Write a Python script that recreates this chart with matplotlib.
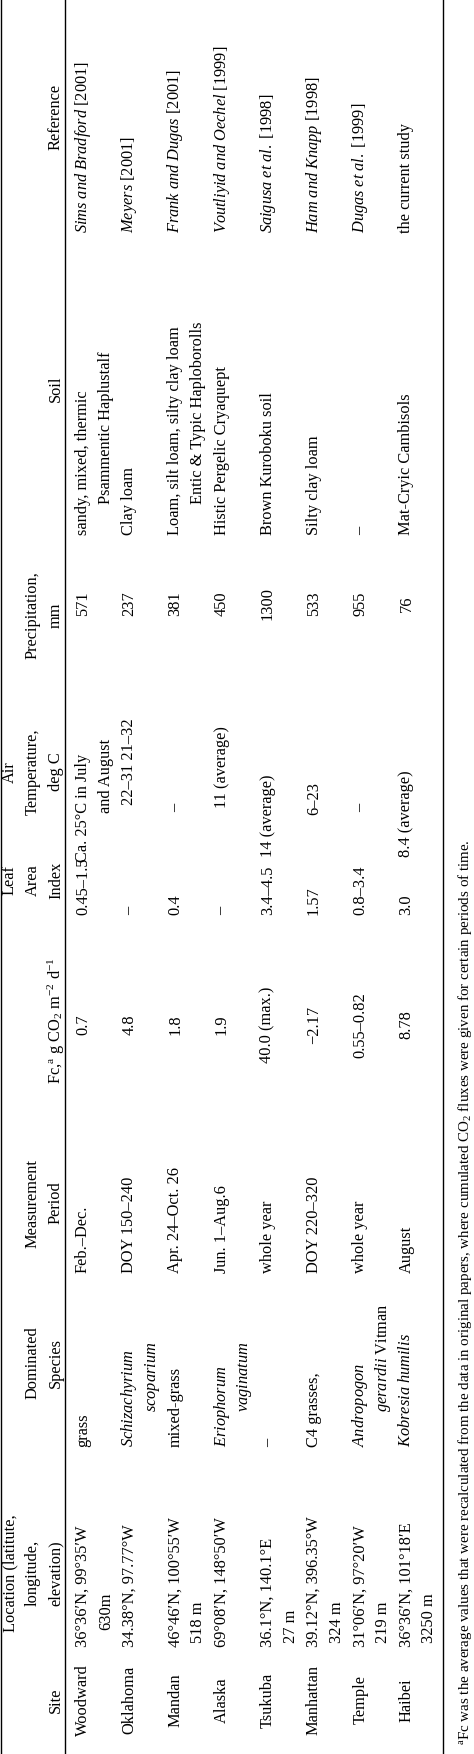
import matplotlib
matplotlib.use("Agg")
import matplotlib.pyplot as plt

plt.rcParams.update({"font.family": "Liberation Serif",
                     "mathtext.fontset": "custom",
                     "mathtext.rm": "Liberation Serif",
                     "mathtext.it": "Liberation Serif:italic"})

# ---------------------------------------------------------------- table contents
sites = ["Woodward", "Oklahoma", "Mandan", "Alaska", "Tsukuba", "Manhattan", "Temple", "Haibei"]
location1 = ["36°36′N, 99°35′W", "34.38°N, 97.77°W", "46°46′N, 100°55′W", "69°08′N, 148°50′W",
             "36.1°N, 140.1°E", "39.12°N, 396.35°W", "31°06′N, 97°20′W", "36°36′N, 101°18′E"]
location2 = ["630m", None, "518 m", None, "27 m", "324 m", "219 m", "3250 m"]
species1 = ["grass", r"$\it{Schizachyrium}$", "mixed-grass", r"$\it{Eriophorum}$", "–",
            "C4 grasses,", r"$\it{Andropogon}$", r"$\it{Kobresia\ humilis}$"]
species2 = [None, r"$\it{scoparium}$", None, r"$\it{vaginatum}$", None, None,
            r"$\it{gerardii}$ Vitman", None]
period = ["Feb.–Dec.", "DOY 150–240", "Apr. 24–Oct. 26", "Jun. 1–Aug.6", "whole year",
          "DOY 220–320", "whole year", "August"]
fc = ["0.7", "4.8", "1.8", "1.9", "40.0 (max.)", "−2.17", "0.55–0.82", "8.78"]
lai = ["0.45–1.5", "–", "0.4", "–", "3.4–4.5", "1.57", "0.8–3.4", "3.0"]
air1 = ["Ca. 25°C in July", "22–31 21–32", "–", "11 (average)", "14 (average)", "6–23", "–",
        "8.4 (average)"]
air2 = ["and August", None, None, None, None, None, None, None]
precip = ["571", "237", "381", "450", "1300", "533", "955", "76"]
soil1 = ["sandy, mixed, thermic", "Clay loam", "Loam, silt loam, silty clay loam",
         "Histic Pergelic Cryaquept", "Brown Kuroboku soil", "Silty clay loam", "–",
         "Mat-Cryic Cambisols"]
soil2 = ["Psammentic Haplustalf", None, "Entic & Typic Haploborolls", None, None, None, None, None]
refs = [r"$\it{Sims\ and\ Bradford}$ [2001]", r"$\it{Meyers}$ [2001]",
        r"$\it{Frank\ and\ Dugas}$ [2001]", r"$\it{Voutliyid\ and\ Oechel}$ [1999]",
        r"$\it{Saigusa\ et\ al.}$ [1998]", r"$\it{Ham\ and\ Knapp}$ [1998]",
        r"$\it{Dugas\ et\ al.}$ [1999]", "the current study"]
headers = [["Site"], ["Location (latitute,", "longitude,", "elevation)"],
           ["Dominated", "Species"], ["Measurement", "Period"],
           [r"Fc,$^{\rm a}$ g CO$_2$ m$^{-2}$ d$^{-1}$"], ["Leaf", "Area", "Index"],
           ["Air", "Temperature,", "deg C"], ["Precipitation,", "mm"], ["Soil"], ["Reference"]]
footnote = (r"$^{\rm a}$Fc was the average values that were recalculated from the data in original "
            r"papers, where cumulated CO$_2$ fluxes were given for certain periods of time.")

# ---------------------------------------------------------------- layout (image pixels)
W, H = 474, 1754
fig = plt.figure(figsize=(W / 100, H / 100), dpi=100)
ax = fig.add_axes([0, 0, 1, 1])
ax.set_xlim(0, W); ax.set_ylim(H, 0); ax.axis("off")
FS = 11.8
ROW0, DROW, LINE2 = 83, 46.2, 23
head_y = [1700, 1573, 1363, 1203, 1021, 880, 772, 615, 389, 117]
air_start = [862, 805, 812, 808, 857, 815, 812, 857]


def put(x, y, s, ha="left", fs=FS, **kw):
    ax.text(x, y, s, rotation=90, rotation_mode="anchor", ha=ha, va="center",
            fontsize=fs, **kw)


for lines, y in zip(headers, head_y):
    for k, s in enumerate(lines):
        put(56 - 23 * (len(lines) - 1 - k), y, s, ha="center")

for i in range(len(sites)):
    x = ROW0 + DROW * i
    put(x, 1700, sites[i], ha="center")
    put(x, 1647, location1[i])
    if location2[i]:
        put(x + LINE2, 1630 if i == 0 else 1643, location2[i])
    put(x, 1447, species1[i])
    if species2[i]:
        put(x + LINE2, 1412, species2[i])
    put(x, 1273, period[i])
    put(x, 1025, fc[i], ha="center")
    put(x, 915, lai[i])
    put(x, air_start[i], air1[i])
    if air2[i]:
        put(x + LINE2, 813, air2[i])
    put(x, 604, precip[i], ha="center")
    put(x, 535, soil1[i])
    if soil2[i]:
        put(x + LINE2, 504, soil2[i])
    put(x, 233, refs[i])

for xr in (1, 65, 443):
    ax.plot([xr, xr], [0, H], color="black", lw=1.0)
put(465, 1745, footnote, fs=10.8)

fig.savefig("out.png", dpi=100)
